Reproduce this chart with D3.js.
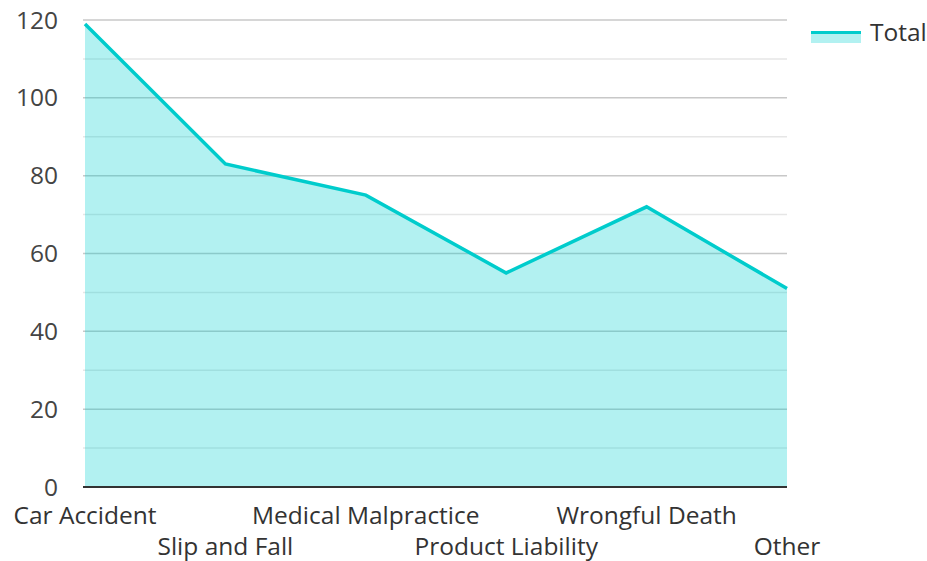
<!DOCTYPE html>
<html>
<head>
<meta charset="utf-8">
<script src="https://cdn.jsdelivr.net/npm/d3@7"></script>
<style>
  body { margin: 0; background: #fff; }
  text { font-family: "Open Sans", "Noto Sans", sans-serif; }
</style>
</head>
<body>
<div id="chart"></div>
<script>
// Area chart: cases by type

const categories = ["Car Accident", "Slip and Fall", "Medical Malpractice", "Product Liability", "Wrongful Death", "Other"];
const totals = [119, 83, 75, 55, 72, 51];
const yTicks = [0, 20, 40, 60, 80, 100, 120];
const seriesName = "Total";

(function() {
    const W = 927, H = 561;
    const margin = {top: 20, right: 140, bottom: 74, left: 85},
        width = W - margin.left - margin.right,
        height = H - margin.top - margin.bottom;

    const svg = d3.select("#chart")
        .append("svg")
        .attr("width", W)
        .attr("height", H);

    const g = svg.append("g")
        .attr("transform", `translate(${margin.left},${margin.top})`);

    const x = d3.scalePoint()
        .domain(categories)
        .range([0, width]);

    const y = d3.scaleLinear()
        .domain([0, 120])
        .range([height, 0]);

    // grid lines: lighter ones at the 10s, darker at the 20s
    const minor = d3.range(10, 120, 20);
    g.selectAll(".minor")
        .data(minor)
        .enter()
        .append("line")
        .attr("x1", -2).attr("x2", width)
        .attr("y1", d => y(d)).attr("y2", d => y(d))
        .attr("stroke", "#e6e6e6")
        .attr("stroke-width", 1.5);

    g.selectAll(".major")
        .data(yTicks.filter(d => d > 0))
        .enter()
        .append("line")
        .attr("x1", -2).attr("x2", width)
        .attr("y1", d => y(d)).attr("y2", d => y(d))
        .attr("stroke", "#c8c8c8")
        .attr("stroke-width", 1.5);

    // area + line
    const pts = categories.map((c, i) => ({c: c, v: totals[i]}));

    g.append("path")
        .datum(pts)
        .attr("fill", "#00cfcf")
        .attr("fill-opacity", 0.3)
        .attr("d", d3.area().x(d => x(d.c)).y0(y(0)).y1(d => y(d.v)));

    g.append("path")
        .datum(pts)
        .attr("fill", "none")
        .attr("stroke", "#00cccc")
        .attr("stroke-width", 3.5)
        .attr("stroke-linejoin", "miter")
        .attr("d", d3.line().x(d => x(d.c)).y(d => y(d.v)));

    // x axis line
    g.append("line")
        .attr("x1", -2).attr("x2", width)
        .attr("y1", height).attr("y2", height)
        .attr("stroke", "#333")
        .attr("stroke-width", 2);

    // y labels
    g.selectAll(".ylab")
        .data(yTicks)
        .enter()
        .append("text")
        .attr("x", -27)
        .attr("y", d => y(d))
        .attr("dy", "0.35em")
        .attr("text-anchor", "end")
        .attr("fill", "#444")
        .style("font-size", "24.5px")
        .text(d => d);

    // x labels, staggered on two rows
    g.selectAll(".xlab")
        .data(categories)
        .enter()
        .append("text")
        .attr("x", d => x(d))
        .attr("y", (d, i) => height + (i % 2 === 0 ? 37 : 68))
        .attr("text-anchor", "middle")
        .attr("fill", "#333")
        .style("font-size", "24.5px")
        .text(d => d);

    // legend
    const lg = svg.append("g").attr("transform", "translate(811,31)");
    lg.append("rect")
        .attr("x", 0).attr("y", 0)
        .attr("width", 50).attr("height", 12)
        .attr("fill", "#00cfcf")
        .attr("fill-opacity", 0.3);
    lg.append("line")
        .attr("x1", 0).attr("x2", 50)
        .attr("y1", 1.5).attr("y2", 1.5)
        .attr("stroke", "#00cccc")
        .attr("stroke-width", 3);
    lg.append("text")
        .attr("x", 59)
        .attr("y", 1)
        .attr("dy", "0.35em")
        .attr("fill", "#333")
        .style("font-size", "24.5px")
        .text(seriesName);
})();
</script>
</body>
</html>
